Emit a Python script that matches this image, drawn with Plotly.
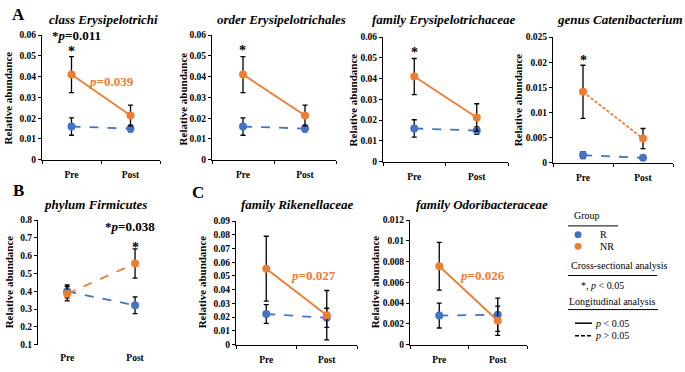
import plotly.graph_objects as go

W, H = 685, 372
categories = ["Pre", "Post"]

# ---- data ----
a1_R = [0.016, 0.015];   a1_R_err = [0.0042, 0.0016]
a1_NR = [0.041, 0.0213]; a1_NR_err = [0.0087, 0.005]
a2_R = [0.016, 0.015];   a2_R_err = [0.0042, 0.0016]
a2_NR = [0.041, 0.0213]; a2_NR_err = [0.0087, 0.005]
a3_R = [0.016, 0.015];   a3_R_err = [0.0042, 0.0018]
a3_NR = [0.041, 0.0213]; a3_NR_err = [0.0087, 0.0066]
a4_R = [0.0015, 0.00095]; a4_R_err = [0.0007, 0.0003]
a4_NR = [0.0141, 0.0048]; a4_NR_err = [0.0053, 0.002]
b_R = [0.399, 0.321];    b_R_err = [0.036, 0.047]
b_NR = [0.386, 0.556];   b_NR_err = [0.04, 0.082]
c1_R = [0.0223, 0.0195]; c1_R_err = [0.0068, 0.007]
c1_NR = [0.0553, 0.0214]; c1_NR_err = [0.0236, 0.018]
c2_R = [0.0028, 0.00288]; c2_R_err = [0.0012, 0.0016]
c2_NR = [0.00755, 0.0023]; c2_NR_err = [0.0023, 0.0014]

BLUE = "#4472C4"
ORANGE = "#ED7D31"
SERIF = "Liberation Serif, Times New Roman, DejaVu Serif, serif"

panels = [
    dict(R=a1_R, Re=a1_R_err, N=a1_NR, Ne=a1_NR_err, nd="solid", rd="dash", y0=0, y1=0.06, dt=0.01,
         xp=(42, 160), yp=(31, 159), xr=(0, 2), xl=True),
    dict(R=a2_R, Re=a2_R_err, N=a2_NR, Ne=a2_NR_err, nd="solid", rd="dash", y0=0, y1=0.06, dt=0.01,
         xp=(212, 336), yp=(31, 159), xr=(0, 2), xl=True),
    dict(R=a3_R, Re=a3_R_err, N=a3_NR, Ne=a3_NR_err, nd="solid", rd="dash", y0=0, y1=0.06, dt=0.01,
         xp=(383, 508), yp=(33, 161), xr=(0, 2), xl=True),
    dict(R=a4_R, Re=a4_R_err, N=a4_NR, Ne=a4_NR_err, nd="3px,2px", rd="dash", y0=0, y1=0.025, dt=0.005,
         xp=(553, 673), yp=(33, 162), xr=(0, 2), xl=True),
    dict(R=b_R, Re=b_R_err, N=b_NR, Ne=b_NR_err, nd="dash", rd="dash", y0=0.1, y1=0.8, dt=0.1,
         xp=(38, 169), yp=(221, 349), xr=(0.07, 2), xl=False),
    dict(R=c1_R, Re=c1_R_err, N=c1_NR, Ne=c1_NR_err, nd="solid", rd="dash", y0=0, y1=0.09, dt=0.01,
         xp=(236, 357), yp=(222, 349), xr=(0, 2), xl=True),
    dict(R=c2_R, Re=c2_R_err, N=c2_NR, Ne=c2_NR_err, nd="solid", rd="dash", y0=0, y1=0.012, dt=0.002,
         xp=(410, 527), yp=(221, 349), xr=(0, 2), xl=True),
]

fig = go.Figure()
xpos = [i + 0.5 for i in range(len(categories))]

for i, p in enumerate(panels):
    k = "" if i == 0 else str(i + 1)
    xa, ya = "x" + k, "y" + k
    for vals, errs, col, dash in [(p["R"], p["Re"], BLUE, p["rd"]), (p["N"], p["Ne"], ORANGE, p["nd"])]:
        fig.add_trace(go.Scatter(
            x=xpos, y=vals, xaxis=xa, yaxis=ya, mode="lines+markers",
            line=dict(color=col, width=1.8, dash=dash),
            marker=dict(color=col, size=8),
            error_y=dict(type="data", array=errs, color="black", thickness=1.3, width=2.5),
            showlegend=False, cliponaxis=False, hoverinfo="skip"))
    l, r = p["xp"]
    t, b = p["yp"]
    fig.layout["xaxis" + k] = dict(
        domain=[l / W, r / W], range=list(p["xr"]), anchor=ya,
        tickvals=xpos, ticktext=[f"<b>{c}</b>" for c in categories],
        ticks="", showgrid=False, zeroline=False,
        showline=p["xl"], linecolor="black", linewidth=1,
        tickfont=dict(family=SERIF, size=9.5, color="black"), ticklabelstandoff=6,
        minor=dict(tickvals=[0, 1, 2] if p["xl"] else [], ticks="outside" if p["xl"] else "",
                   ticklen=3, tickcolor="black", showgrid=False),
        fixedrange=True)
    fig.layout["yaxis" + k] = dict(
        domain=[1 - b / H, 1 - t / H], range=[p["y0"], p["y1"]], anchor=xa,
        dtick=p["dt"], tick0=0, ticks="outside", ticklen=3, tickcolor="black",
        showgrid=False, zeroline=False, showline=True, linecolor="black", linewidth=1,
        tickfont=dict(family=SERIF, size=9.5, color="black", weight="bold"),
        fixedrange=True)

ann = []
def A(x, y, text, size=12, color="black", angle=0, xanchor="center"):
    ann.append(dict(x=x / W, y=1 - y / H, xref="paper", yref="paper", text=text,
                    showarrow=False, textangle=angle, xanchor=xanchor, yanchor="middle",
                    font=dict(family=SERIF, size=size, color=color)))

# panel letters
A(18, 10, "<b>A</b>", 17)
A(18, 191, "<b>B</b>", 17)
A(198, 193, "<b>C</b>", 17)
# titles
A(103, 15, "<b><i>class Erysipelotrichi</i></b>", 13)
A(281, 15, "<b><i>order Erysipelotrichales</i></b>", 13)
A(444, 15, "<b><i>family Erysipelotrichaceae</i></b>", 13)
A(620, 15, "<b><i>genus Catenibacterium</i></b>", 13)
A(95, 205, "<b><i>phylum Firmicutes</i></b>", 13)
A(297, 205, "<b><i>family Rikenellaceae</i></b>", 13)
A(482, 205, "<b><i>family Odoribacteraceae</i></b>", 13)
# y titles
for x, y in [(8, 96), (183, 96), (353, 97), (518, 98), (9, 285), (202, 285), (375, 285)]:
    A(x, y, "<b>Relative abundance</b>", 11, angle=-90)
# significance
A(76, 31, "<b>*<i>p</i>=0.011</b>", 13)
A(71, 48, "<b>*</b>", 14)
A(243, 47, "<b>*</b>", 14)
A(414, 49, "<b>*</b>", 14)
A(583, 57, "<b>*</b>", 14)
A(111, 79, "<b><i>p</i>=0.039</b>", 13, ORANGE)
A(130, 228, "<b>*<i>p</i>=0.038</b>", 13)
A(135, 249, "<b>*</b>", 14)
A(313, 278, "<b><i>p</i>=0.027</b>", 13, ORANGE)
A(482, 278, "<b><i>p</i>=0.026</b>", 13, ORANGE)

# legend
A(587, 216, "Group", 10)
A(598, 236, "R", 10, xanchor="left")
A(598, 248, "NR", 10, xanchor="left")
A(619, 268, "Cross-sectional analysis", 10)
A(602, 288, "*, <i>p</i> &lt; 0.05", 10)
A(612, 305, "Longitudinal analysis", 10)
A(593, 327, "<i>p</i> &lt; 0.05", 10, xanchor="left")
A(593, 340, "<i>p</i> &gt; 0.05", 10, xanchor="left")

shapes = []
def L(x0, y0, x1, y1, dash="solid", w=1):
    shapes.append(dict(type="line", xref="paper", yref="paper",
                       x0=x0 / W, x1=x1 / W, y0=1 - y0 / H, y1=1 - y1 / H,
                       line=dict(color="black", width=w, dash=dash)))
L(568, 227, 618, 227)
L(568, 278, 657, 278)
L(568, 313, 658, 313)
L(575, 327, 592, 327, w=1.5)
L(575, 340, 592, 340, dash="4px,2px", w=1.5)
for cy, col in [(236, BLUE), (248, ORANGE)]:
    shapes.append(dict(type="circle", xref="paper", yref="paper",
                       x0=(578 - 3.5) / W, x1=(578 + 3.5) / W,
                       y0=1 - (cy + 3.5) / H, y1=1 - (cy - 3.5) / H,
                       fillcolor=col, line=dict(color=col, width=0)))

fig.update_layout(width=W, height=H, margin=dict(l=0, r=0, t=0, b=0),
                  paper_bgcolor="white", plot_bgcolor="white",
                  annotations=ann, shapes=shapes, showlegend=False)
fig.write_html("out.html", config={"displayModeBar": False, "staticPlot": True},
               post_script="document.body.style.margin='0';document.body.style.padding='0';")
